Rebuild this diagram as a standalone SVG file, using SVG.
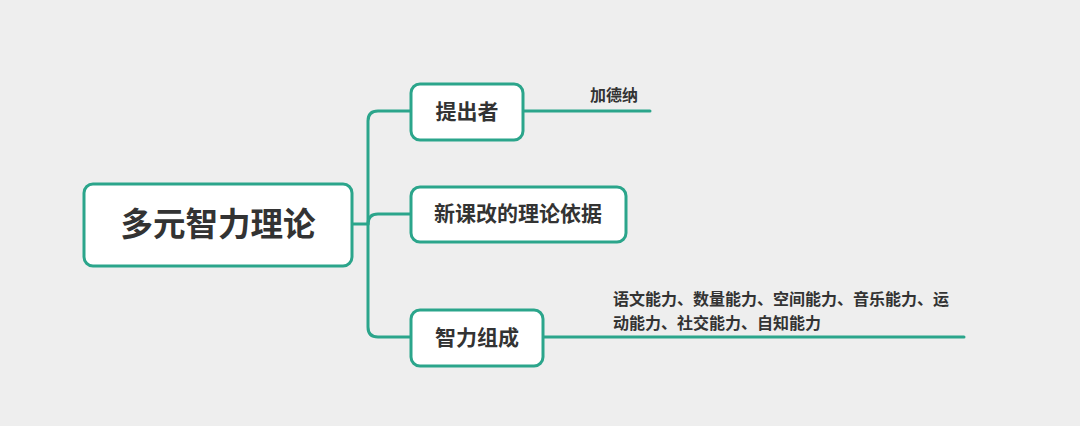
<svg xmlns="http://www.w3.org/2000/svg" width="1080" height="426" viewBox="0 0 1080 426">
<style>
.box{fill:#ffffff;stroke:#2ba58b;stroke-width:3}
.ln{fill:none;stroke:#2ba58b;stroke-width:3;stroke-linecap:round}
text{font-family:"Noto Sans CJK SC","Noto Sans",sans-serif;font-weight:bold;fill:#333333}
.t1{font-size:32.5px}
.t2{font-size:21px}
.t3{font-size:16px}
</style>
<rect x="0" y="0" width="1080" height="426" fill="#eeeeee"/>
<g id="connectors">
<path class="ln" d="M352,224 H368"/>
<path class="ln" d="M411,111 H378 Q368,111 368,121 V327 Q368,337 378,337 H411"/>
<path class="ln" d="M368,224 Q368,214 378,214 H411"/>
<path class="ln" d="M523,111 H650"/>
<path class="ln" d="M543,337 H964"/>
</g>
<g id="root">
<rect class="box" x="84" y="184" width="268" height="82" rx="9"/>
<text class="t1" x="218" y="236" text-anchor="middle">多元智力理论</text>
</g>
<g id="node-proposer">
<rect class="box" x="411" y="84" width="112" height="56" rx="9"/>
<text class="t2" x="467" y="119" text-anchor="middle">提出者</text>
</g>
<g id="leaf-gardner">
<text class="t3" x="590" y="101">加德纳</text>
</g>
<g id="node-basis">
<rect class="box" x="411" y="187" width="215" height="55" rx="9"/>
<text class="t2" x="518" y="221" text-anchor="middle">新课改的理论依据</text>
</g>
<g id="node-components">
<rect class="box" x="411" y="310" width="132" height="56" rx="9"/>
<text class="t2" x="477" y="345" text-anchor="middle">智力组成</text>
</g>
<g id="leaf-components">
<text class="t3" x="613" y="305">语文能力、数量能力、空间能力、音乐能力、运</text>
<text class="t3" x="613" y="329">动能力、社交能力、自知能力</text>
</g>
</svg>
